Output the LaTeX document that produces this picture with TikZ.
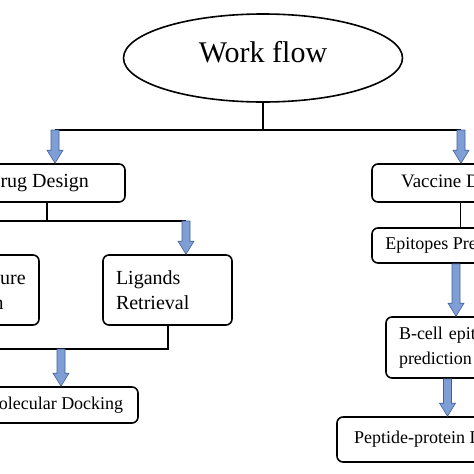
\documentclass[tikz,border=0pt]{standalone}
\usepackage{fontspec}
\setmainfont{Liberation Serif}
\usetikzlibrary{shapes.geometric,calc}
\definecolor{arrowfill}{HTML}{7F9ED6}
\definecolor{arrowedge}{HTML}{42609A}
\tikzset{box/.style={draw, rounded corners=6pt, line width=1.6pt, inner sep=0pt},
	link/.style={line width=1.6pt},
	barrow/.style={draw=arrowedge, fill=arrowfill, line width=0.6pt,
		to path={let \p1=(\tikztostart), \p2=(\tikztotarget) in
			(\x1-4pt,\y1) -- (\x1+4pt,\y1) -- (\x1+4pt,\y2+13pt) -- (\x1+8pt,\y2+13pt)
			-- (\x1,\y2) -- (\x1-8pt,\y2+13pt) -- (\x1-4pt,\y2+13pt) -- cycle}}}

\begin{document}
\begin{tikzpicture}[x=1pt, y=-1pt]
	\useasboundingbox (0,0) rectangle (474,474);
	\clip (0,0) rectangle (474,474);
	% top
	\node [ellipse, draw, line width=1.6pt, minimum width=279pt, minimum height=88pt, inner sep=0pt, text depth=12.5pt, font=\fontsize{30}{36}\selectfont] (wf) at (263,58) {Work flow};
	\coordinate (bar) at (263,130);
	\coordinate (barL) at (55,130);
	\coordinate (barR) at (461,130);
	% drug design side
	\node [box, minimum width=175pt, minimum height=38pt, font=\fontsize{20}{24}\selectfont] (drug) at (37.5,183) {Drug Design};
	\node [box, text width=138pt, inner xsep=13pt, minimum height=70pt, align=left, font=\fontsize{20}{25}\selectfont] (struct) at (-43,290) {Protein Structure\\Determination};
	\node [box, text width=103pt, inner xsep=13pt, minimum height=70pt, align=left, font=\fontsize{20}{25}\selectfont] (lig) at (167.5,290) {Ligands\\Retrieval};
	\node [box, minimum width=170pt, minimum height=36pt, font=\fontsize{18}{22}\selectfont] (dock) at (53,405) {Molecular Docking};
	\coordinate (dj) at (47,221);
	\coordinate (ligin) at (186,221);
	\coordinate (lj) at (168,349);
	\coordinate (dkin) at (61,349);
	% vaccine design side
	\node [box, minimum width=177pt, minimum height=38pt, font=\fontsize{19}{23}\selectfont] (vac) at (460.5,183) {Vaccine Design};
	\node [box, minimum width=168pt, minimum height=35pt, font=\fontsize{18}{22}\selectfont] (epi) at (456,245.5) {Epitopes Prediction};
	\node [box, text width=113pt, inner xsep=13pt, minimum height=61pt, align=left, font=\fontsize{18}{25}\selectfont] (bcell) at (455.5,347.5) {B-cell epitope\\prediction};
	\node [box, minimum width=211.5pt, minimum height=45pt, font=\fontsize{18}{22}\selectfont] (pep) at (442.75,439.5) {Peptide-protein Docking};
	% connectors
	\draw [link] (wf.south) -- (bar);
	\draw [link] (barL) -- (barR);
	\draw [barrow] (barL) to (drug.north);
	\draw [barrow] (barR) to (vac.north);
	\draw [link] (drug.south -| dj) -- (dj);
	\draw [link] (struct.north |- dj) -- (ligin);
	\draw [barrow] (ligin) to (lig.north);
	\draw [link] (lig.south -| lj) -- (lj) -- (lj -| struct.south) -- (struct.south);
	\draw [barrow] (dkin) to (dock.north);
	\draw [link] (vac.south) -- (vac.south |- epi.north);
	\draw [barrow] (epi.south) to (bcell.north);
	\draw [barrow] ([xshift=-8pt]bcell.south) to (pep.north);
\end{tikzpicture}
\end{document}
